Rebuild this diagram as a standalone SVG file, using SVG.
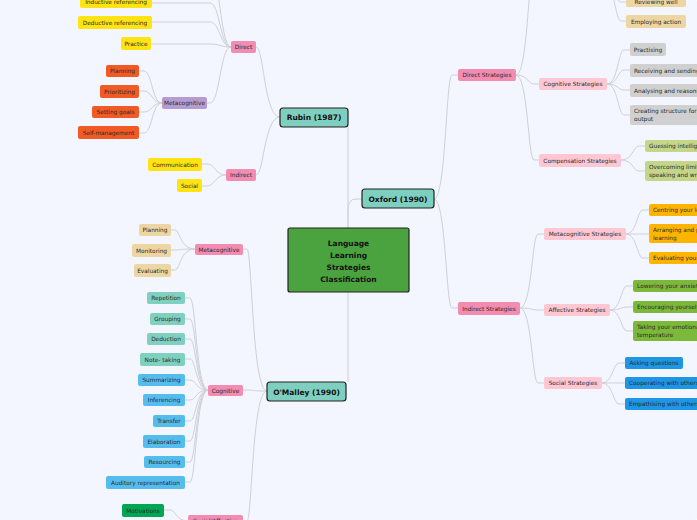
<svg xmlns="http://www.w3.org/2000/svg" width="697" height="520" viewBox="0 0 697 520">
<style>
.c{fill:none;stroke:#cfd0d8;stroke-width:1}
.t{font-family:"DejaVu Sans",sans-serif;font-size:5.8px;fill:#2a2a2a;text-anchor:middle}
.s{text-anchor:start}
.b{font-family:"DejaVu Sans",sans-serif;font-size:7.5px;font-weight:bold;fill:#111;text-anchor:middle}
rect{rx:2;ry:2}
.pk{fill:#f28cb1}.ye{fill:#ffe313}.or{fill:#f15a24}.pu{fill:#b59cd0}.tan{fill:#ecd6a4}.tl{fill:#80d0c0}.bl{fill:#55bdee}.gn{fill:#00a651}
.lp{fill:#fec7d2}.gr{fill:#d0d0d0}.ol{fill:#c5d68a}.am{fill:#ffb400}.lg{fill:#7cb83a}.db{fill:#1e96e6}
.m{fill:#7fcfc1;stroke:#222;stroke-width:1.2;rx:3;ry:3}
</style>
<rect width="697" height="520" fill="#f3f6fe"/>
<g id="connectors">
<path class="c" d="M348,127 V228 M348,292 V382 M348,228 V210 Q348,199 356,199 H362"/>
<path class="c" d="M280,117 C264,117 264,47 256,47 M280,117 C264,117 264,175 256,175"/>
<path class="c" d="M231,47 C220,47 220,-30 210,-30 H160 M231,47 C220,47 220,3 210,3 H152 M231,47 C220,47 220,22 210,22 H152 M231,47 C220,47 220,44 210,44 H151 M231,47 C220,47 220,103 210,103 H207"/>
<path class="c" d="M162,103 C152,103 152,71 144,71 H139 M162,103 C152,103 152,91 144,91 H139 M162,103 C152,103 152,112 144,112 H139 M162,103 C152,103 152,133 144,133 H139"/>
<path class="c" d="M226,175 C215,175 215,164 207,164 H202 M226,175 C215,175 215,186 207,186 H202"/>
<path class="c" d="M434,199 C446,199 446,75 452,75 H458 M434,199 C446,199 446,308 452,308 H458"/>
<path class="c" d="M516,75 C528,75 528,-30 534,-30 H560 M516,75 C528,75 528,84 534,84 H539 M516,75 C528,75 528,160 534,160 H539"/>
<path class="c" d="M600,-20 C615,-20 615,2 621,2 H626 M600,-20 C615,-20 615,21 621,21 H626"/>
<path class="c" d="M607,84 C618,84 618,50 624,50 H630 M607,84 C618,84 618,70 624,70 H630 M607,84 C618,84 618,90 624,90 H630 M607,84 C618,84 618,115 624,115 H630"/>
<path class="c" d="M621,160 C633,160 633,146 639,146 H645 M621,160 C633,160 633,171 639,171 H645"/>
<path class="c" d="M520,308 C532,308 532,234 538,234 H544 M520,308 C532,308 532,310 538,310 H544 M520,308 C532,308 532,383 538,383 H544"/>
<path class="c" d="M626,234 C637,234 637,210 643,210 H649 M626,234 C637,234 637,234 643,234 H649 M626,234 C637,234 637,258 643,258 H649"/>
<path class="c" d="M610,310 C621,310 621,286 627,286 H633 M610,310 C621,310 621,307 627,307 H633 M610,310 C621,310 621,331 627,331 H633"/>
<path class="c" d="M602,383 C613,383 613,363 619,363 H625 M602,383 C613,383 613,383 619,383 H625 M602,383 C613,383 613,404 619,404 H625"/>
<path class="c" d="M267,391 C252,391 252,249 247,249 H243 M267,391 C252,391 252,390 247,390 H243 M267,391 C252,391 252,521 247,521 H243"/>
<path class="c" d="M195,249 C180,249 180,230 175,230 H171 M195,249 C180,249 180,250 175,250 H171 M195,249 C180,249 180,270 175,270 H171"/>
<path class="c" d="M208,390 C196,390 196,298 190,298 H185 M208,390 C196,390 196,319 190,319 H185 M208,390 C196,390 196,339 190,339 H185 M208,390 C196,390 196,359 190,359 H185 M208,390 C196,390 196,380 190,380 H185 M208,390 C196,390 196,400 190,400 H185 M208,390 C196,390 196,421 190,421 H185 M208,390 C196,390 196,441 190,441 H185 M208,390 C196,390 196,462 190,462 H185 M208,390 C196,390 196,482 190,482 H185"/>
<path class="c" d="M188,521 C176,521 176,510 170,510 H164"/>
</g>
<g id="root"><rect x="288" y="228" width="121" height="64" rx="3" fill="#4aa33e" stroke="#222" stroke-width="1.2"/>
<text class="b" font-size="10.5" x="348.5" y="245.5">Language</text><text class="b" font-size="10.5" x="348.5" y="257.5">Learning</text><text class="b" font-size="10.5" x="348.5" y="269.5">Strategies</text><text class="b" font-size="10.5" x="348.5" y="281.5">Classification</text></g>
<g id="rubin"><rect class="m" x="280" y="108" width="68" height="19"/><text class="b" x="314" y="120">Rubin (1987)</text></g>
<g id="oxford"><rect class="m" x="362" y="189" width="72" height="19"/><text class="b" x="398" y="201.5">Oxford (1990)</text></g>
<g id="omalley"><rect class="m" x="267" y="382" width="79" height="19"/><text class="b" x="306.5" y="394.5">O'Malley (1990)</text></g>
<g id="r-direct"><rect class="pk" x="231" y="41" width="25" height="12"/><text class="t" x="243.5" y="49">Direct</text></g>
<g id="r-indirect"><rect class="pk" x="226" y="169" width="30" height="12"/><text class="t" x="241" y="177">Indirect</text></g>
<g id="r-inductive"><rect class="ye" x="80" y="-4" width="72" height="12"/><text class="t" x="116" y="4">Inductive referencing</text></g>
<g id="r-deductive"><rect class="ye" x="78" y="16" width="74" height="13"/><text class="t" x="115" y="24.5">Deductive referencing</text></g>
<g id="r-practice"><rect class="ye" x="121" y="37" width="30" height="13"/><text class="t" x="136" y="45.5">Practice</text></g>
<g id="r-meta"><rect class="pu" x="162" y="97" width="45" height="12"/><text class="t" x="184.5" y="105">Metacognitive</text></g>
<g id="r-planning"><rect class="or" x="106" y="65" width="33" height="12"/><text class="t" x="122.5" y="73">Planning</text></g>
<g id="r-prior"><rect class="or" x="100" y="85" width="39" height="13"/><text class="t" x="119.5" y="93.5">Prioritizing</text></g>
<g id="r-goals"><rect class="or" x="92" y="106" width="47" height="12"/><text class="t" x="115.5" y="114">Setting goals</text></g>
<g id="r-self"><rect class="or" x="78" y="126" width="61" height="13"/><text class="t" x="108.5" y="134.5">Self-management</text></g>
<g id="r-comm"><rect class="ye" x="148" y="158" width="54" height="13"/><text class="t" x="175" y="166.5">Communication</text></g>
<g id="r-social"><rect class="ye" x="177" y="179" width="25" height="13"/><text class="t" x="189.5" y="187.5">Social</text></g>
<g id="o-direct"><rect class="pk" x="458" y="69" width="58" height="12"/><text class="t" x="487" y="77">Direct Strategies</text></g>
<g id="o-indirect"><rect class="pk" x="458" y="302" width="62" height="13"/><text class="t" x="489" y="310.5">Indirect Strategies</text></g>
<g id="o-review"><rect class="tan" x="626" y="-4" width="60" height="11"/><text class="t" x="656" y="4">Reviewing well</text></g>
<g id="o-employ"><rect class="tan" x="626" y="15" width="60" height="13"/><text class="t" x="656" y="23.5">Employing action</text></g>
<g id="o-cog"><rect class="lp" x="539" y="78" width="68" height="12"/><text class="t" x="573" y="86">Cognitive Strategies</text></g>
<g id="o-comp"><rect class="lp" x="539" y="154" width="82" height="13"/><text class="t" x="580" y="162.5">Compensation Strategies</text></g>
<g id="o-practising"><rect class="gr" x="630" y="43" width="36" height="13"/><text class="t" x="648" y="51.5">Practising</text></g>
<g id="o-receiving"><rect class="gr" x="630" y="64" width="110" height="13"/><text class="t s" x="634" y="72.5">Receiving and sending messages</text></g>
<g id="o-analysing"><rect class="gr" x="630" y="84" width="110" height="13"/><text class="t s" x="634" y="92.5">Analysing and reasoning</text></g>
<g id="o-creating"><rect class="gr" x="630" y="105" width="110" height="20"/><text class="t s" x="634" y="113">Creating structure for input and</text><text class="t s" x="634" y="120.5">output</text></g>
<g id="o-guess"><rect class="ol" x="645" y="140" width="90" height="12"/><text class="t s" x="649" y="148">Guessing intelligently</text></g>
<g id="o-over"><rect class="ol" x="645" y="161" width="90" height="20"/><text class="t s" x="649" y="169">Overcoming limitations in</text><text class="t s" x="649" y="176.5">speaking and writing</text></g>
<g id="o-metas"><rect class="lp" x="544" y="228" width="82" height="12"/><text class="t" x="585" y="236">Metacognitive Strategies</text></g>
<g id="o-aff"><rect class="lp" x="544" y="304" width="66" height="12"/><text class="t" x="577" y="312">Affective Strategies</text></g>
<g id="o-soc"><rect class="lp" x="544" y="377" width="58" height="12"/><text class="t" x="573" y="385">Social Strategies</text></g>
<g id="o-centring"><rect class="am" x="649" y="204" width="90" height="12"/><text class="t s" x="653" y="212">Centring your learning</text></g>
<g id="o-arranging"><rect class="am" x="649" y="224" width="90" height="19"/><text class="t s" x="653" y="232">Arranging and planning your</text><text class="t s" x="653" y="239.5">learning</text></g>
<g id="o-evaluating"><rect class="am" x="649" y="252" width="90" height="12"/><text class="t s" x="653" y="260">Evaluating your learning</text></g>
<g id="o-lowering"><rect class="lg" x="633" y="280" width="90" height="12"/><text class="t s" x="637" y="288">Lowering your anxiety</text></g>
<g id="o-encouraging"><rect class="lg" x="633" y="301" width="90" height="12"/><text class="t s" x="637" y="309">Encouraging yourself</text></g>
<g id="o-taking"><rect class="lg" x="633" y="321" width="90" height="20"/><text class="t s" x="637" y="329">Taking your emotional</text><text class="t s" x="637" y="336.5">temperature</text></g>
<g id="o-asking"><rect class="db" x="625" y="357" width="58" height="12"/><text class="t" x="654" y="365">Asking questions</text></g>
<g id="o-coop"><rect class="db" x="625" y="377" width="90" height="12"/><text class="t s" x="629" y="385">Cooperating with others</text></g>
<g id="o-emp"><rect class="db" x="625" y="398" width="90" height="12"/><text class="t s" x="629" y="406">Empathising with others</text></g>
<g id="m-meta"><rect class="pk" x="195" y="244" width="48" height="11"/><text class="t" x="219" y="251.5">Metacognitive</text></g>
<g id="m-cog"><rect class="pk" x="208" y="385" width="35" height="11"/><text class="t" x="225.5" y="392.5">Cognitive</text></g>
<g id="m-socaff"><rect class="pk" x="188" y="515" width="55" height="12"/><text class="t" x="215.5" y="523">Social/Affective</text></g>
<g id="m-planning"><rect class="tan" x="139" y="224" width="32" height="12"/><text class="t" x="155" y="232">Planning</text></g>
<g id="m-monitoring"><rect class="tan" x="132" y="244" width="39" height="13"/><text class="t" x="151.5" y="252.5">Monitoring</text></g>
<g id="m-evaluating"><rect class="tan" x="134" y="264" width="37" height="13"/><text class="t" x="152.5" y="272.5">Evaluating</text></g>
<g id="m-repetition"><rect class="tl" x="147" y="292" width="38" height="12"/><text class="t" x="166" y="300">Repetition</text></g>
<g id="m-grouping"><rect class="tl" x="150" y="313" width="35" height="12"/><text class="t" x="167.5" y="321">Grouping</text></g>
<g id="m-deduction"><rect class="tl" x="147" y="333" width="38" height="12"/><text class="t" x="166" y="341">Deduction</text></g>
<g id="m-note"><rect class="tl" x="140" y="353" width="45" height="13"/><text class="t" x="162.5" y="361.5">Note- taking</text></g>
<g id="m-summ"><rect class="bl" x="138" y="374" width="47" height="12"/><text class="t" x="161.5" y="382">Summarizing</text></g>
<g id="m-infer"><rect class="bl" x="143" y="394" width="42" height="12"/><text class="t" x="164" y="402">Inferencing</text></g>
<g id="m-transfer"><rect class="bl" x="153" y="415" width="32" height="12"/><text class="t" x="169" y="423">Transfer</text></g>
<g id="m-elab"><rect class="bl" x="143" y="435" width="42" height="13"/><text class="t" x="164" y="443.5">Elaboration</text></g>
<g id="m-res"><rect class="bl" x="144" y="456" width="41" height="12"/><text class="t" x="164.5" y="464">Resourcing</text></g>
<g id="m-aud"><rect class="bl" x="106" y="476" width="79" height="13"/><text class="t" x="145.5" y="484.5">Auditory representation</text></g>
<g id="m-motiv"><rect class="gn" x="122" y="504" width="42" height="13"/><text class="t" x="143" y="512.5">Motivations</text></g>
</svg>
